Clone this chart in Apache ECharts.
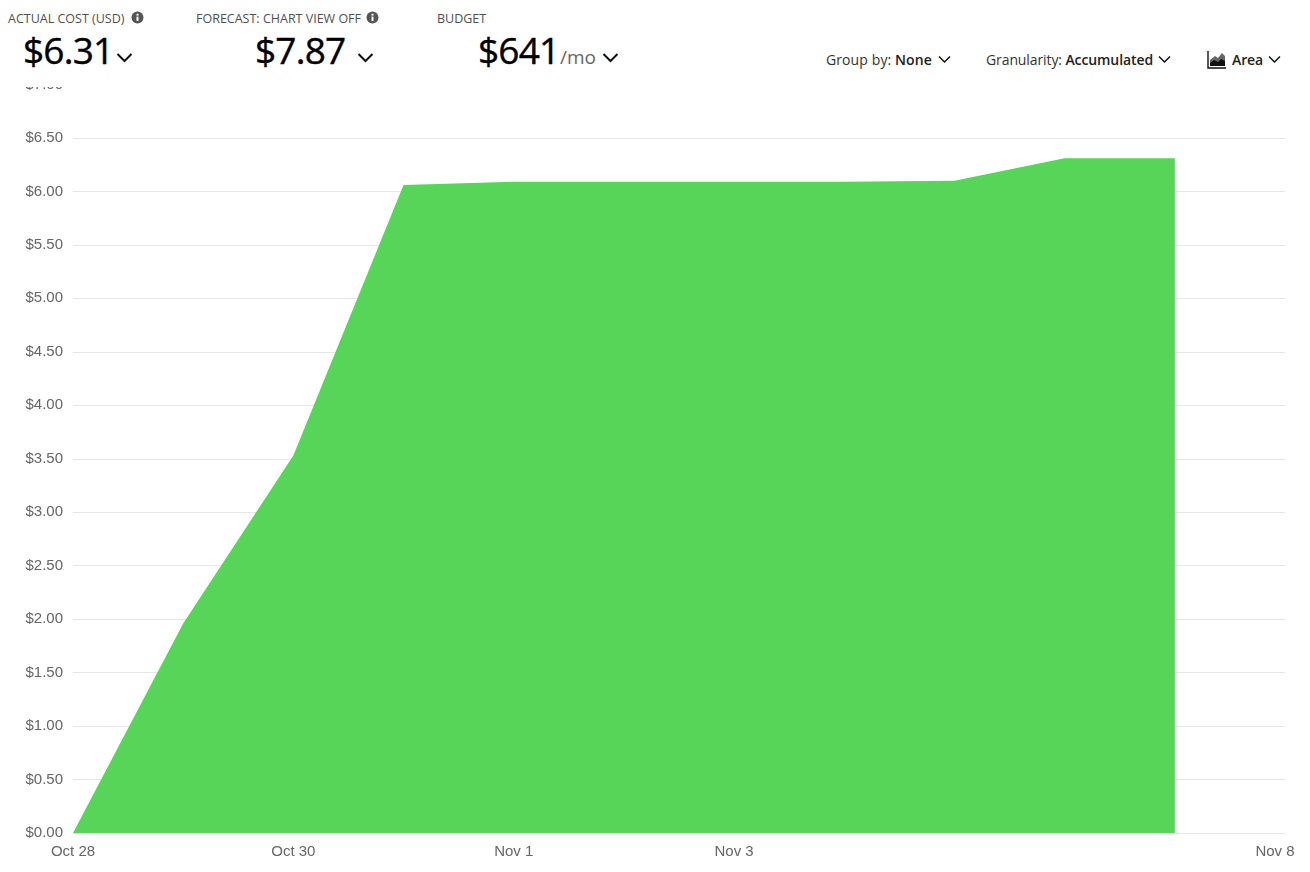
<!DOCTYPE html>
<html>
<head>
<meta charset="utf-8">
<script src="https://cdn.jsdelivr.net/npm/echarts@6/dist/echarts.min.js"></script>
<style>
  html, body { margin: 0; padding: 0; background: #fff; overflow: hidden; }
  #chart { position: absolute; left: 0; top: 0; width: 1310px; height: 872px; }
  #header { position: absolute; left: 0; top: 0; width: 1310px; height: 87px; background: #fff; font-family: "Open Sans", sans-serif; color: #000; }
  #header div, #header svg { position: absolute; white-space: nowrap; }
  .cap { font-size: 12.5px; color: #505050; top: 10px; }
  .big { font-size: 37px; top: 24px; letter-spacing: -0.8px; -webkit-text-stroke: 0.4px #000; }
  .unit { font-size: 19px; color: #666; left: 560px; top: 44px; }
  .opt { font-size: 14px; color: #333; top: 50px; letter-spacing: -0.1px; }
  .opt b { font-weight: 600; color: #222; }
  .chev { fill: none; stroke: #111; stroke-width: 1.5; }
</style>
</head>
<body>
<div id="chart"></div>
<div id="header">
  <div class="cap" style="left:8px">ACTUAL COST (USD)</div>
  <svg style="left:131px;top:11px" width="13" height="13"><circle cx="6.5" cy="6.5" r="6" fill="#555"/><rect x="5.5" y="5.6" width="2" height="4.4" fill="#fff"/><rect x="5.5" y="2.8" width="2" height="1.8" fill="#fff"/></svg>
  <div class="cap" style="left:196px">FORECAST: CHART VIEW OFF</div>
  <svg style="left:366px;top:11px" width="13" height="13"><circle cx="6.5" cy="6.5" r="6" fill="#555"/><rect x="5.5" y="5.6" width="2" height="4.4" fill="#fff"/><rect x="5.5" y="2.8" width="2" height="1.8" fill="#fff"/></svg>
  <div class="cap" style="left:437px">BUDGET</div>

  <div class="big" style="left:23px">$6.31</div>
  <svg style="left:116px;top:52px" width="17" height="11"><path class="chev" style="stroke-width:2" d="M1.5 2 L8.5 9 L15.5 2"/></svg>
  <div class="big" style="left:255px">$7.87</div>
  <svg style="left:357px;top:52px" width="17" height="11"><path class="chev" style="stroke-width:2" d="M1.5 2 L8.5 9 L15.5 2"/></svg>
  <div class="big" style="left:478px">$641</div>
  <div class="unit">/mo</div>
  <svg style="left:602px;top:52px" width="17" height="11"><path class="chev" style="stroke-width:2" d="M1.5 2 L8.5 9 L15.5 2"/></svg>

  <div class="opt" style="left:826px;letter-spacing:0.1px">Group by: <b>None</b></div>
  <svg style="left:938px;top:55px" width="13" height="9"><path class="chev" d="M1 1.5 L6.5 7 L12 1.5"/></svg>
  <div class="opt" style="left:986px">Granularity: <b>Accumulated</b></div>
  <svg style="left:1158px;top:55px" width="13" height="9"><path class="chev" d="M1 1.5 L6.5 7 L12 1.5"/></svg>
  <svg style="left:1207px;top:51px" width="19" height="18"><path d="M1 0 V17 H19" fill="none" stroke="#111" stroke-width="1.4"/><path d="M3 15 V9 L8 5 L11 7 L15 2 L18 5 V15 Z" fill="#666"/><path d="M3 15 V12 L7 9 L11 11 L14 8 L18 10 V15 Z" fill="#111"/></svg>
  <div class="opt" style="left:1232px"><b>Area</b></div>
  <svg style="left:1268px;top:55px" width="13" height="9"><path class="chev" d="M1 1.5 L6.5 7 L12 1.5"/></svg>
</div>
<script>
var days = ['Oct 28', 'Oct 29', 'Oct 30', 'Oct 31', 'Nov 1', 'Nov 2', 'Nov 3', 'Nov 4', 'Nov 5', 'Nov 6', 'Nov 7', 'Nov 8'];
var shownDays = ['Oct 28', 'Oct 30', 'Nov 1', 'Nov 3', 'Nov 8'];
var accumulatedCost = [0, 1.96, 3.53, 6.06, 6.09, 6.09, 6.09, 6.09, 6.10, 6.31, 6.31, null];

var myChart = echarts.init(document.getElementById('chart'));

var option = {
  animation: false,
  grid: { left: 73, right: 25, top: 84.5, bottom: 39 },
  xAxis: {
    type: 'category',
    data: days,
    boundaryGap: false,
    axisLine: { lineStyle: { color: '#e6e6e6' } },
    axisTick: { show: false },
    axisLabel: {
      interval: function (i, name) { return shownDays.indexOf(name) >= 0; },
      hideOverlap: false,
      showMaxLabel: true,
      margin: 11,
      fontFamily: 'Liberation Sans',
      fontSize: 15,
      color: '#666666',
      formatter: function (name) {
        // last label sits left of its tick
        return name === 'Nov 8' ? '{last|' + name + '}' : name;
      },
      rich: { last: { padding: [0, 20, 0, 0], fontFamily: 'Liberation Sans', fontSize: 15, color: '#666666' } }
    },
    splitLine: { show: false }
  },
  yAxis: {
    type: 'value',
    min: 0,
    max: 7,
    interval: 0.5,
    axisLine: { show: false },
    axisTick: { show: false },
    axisLabel: {
      margin: 10,
      padding: [2, 0, 0, 0],
      fontFamily: 'Liberation Sans',
      fontSize: 15,
      color: '#666666',
      formatter: function (v) { return '$' + v.toFixed(2); }
    },
    splitLine: { lineStyle: { color: '#e6e6e6', width: 1 } }
  },
  series: [
    {
      type: 'line',
      data: accumulatedCost,
      showSymbol: false,
      lineStyle: { width: 0 },
      areaStyle: { color: '#56d558', opacity: 1 },
      z: 3
    }
  ]
};

myChart.setOption(option);
</script>
</body>
</html>
